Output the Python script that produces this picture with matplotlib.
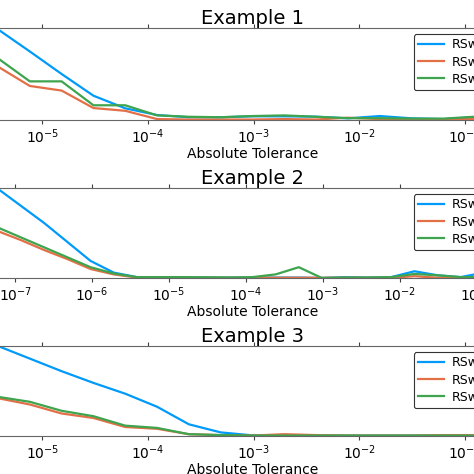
import numpy as np
import matplotlib
matplotlib.use("Agg")
import matplotlib.pyplot as plt

# tolerances are 2^-k
k_short = list(range(18, 1, -1))   # examples 1 and 3
k_long = list(range(24, 1, -1))    # example 2

labels = ["RSwM1", "RSwM2", "RSwM3"]
colors = ["#009AFA", "#E36F47", "#3EA44E"]

# example 1
ex1_m1 = [0.985, 0.745, 0.50, 0.264, 0.127, 0.054, 0.03, 0.03, 0.04, 0.04, 0.036, 0.018, 0.043, 0.018, 0.01, 0.03, 0.02]
ex1_m2 = [0.58, 0.37, 0.32, 0.13, 0.10, 0.01, 0.005, 0.005, 0.005, 0.01, 0.005, 0.025, 0.01, 0.005, 0.005, 0.01, 0.01]
ex1_m3 = [0.67, 0.42, 0.42, 0.16, 0.16, 0.05, 0.035, 0.03, 0.043, 0.05, 0.035, 0.02, 0.02, 0.015, 0.015, 0.036, 0.03]

# example 2
ex2_m1 = [0.99, 0.80, 0.61, 0.40, 0.19, 0.06, 0.01, 0.005, 0.005, 0.005, 0.005, 0.005, 0.005, 0.005, 0.0, 0.01, 0.005, 0.01, 0.075, 0.03, 0.01, 0.06, 0.08]
ex2_m2 = [0.52, 0.42, 0.31, 0.21, 0.10, 0.04, 0.005, 0.003, 0.003, 0.003, 0.003, 0.003, 0.003, 0.003, 0.003, 0.003, 0.003, 0.003, 0.02, 0.003, 0.003, 0.003, 0.003]
ex2_m3 = [0.56, 0.45, 0.34, 0.23, 0.12, 0.05, 0.01, 0.01, 0.01, 0.008, 0.005, 0.01, 0.04, 0.12, 0.0, 0.005, 0.005, 0.01, 0.045, 0.03, 0.01, 0.01, 0.01]

# example 3
ex3_m1 = [1.0, 0.86, 0.72, 0.59, 0.47, 0.325, 0.13, 0.04, 0.007, 0.003, 0.003, 0.003, 0.003, 0.003, 0.003, 0.003, 0.003]
ex3_m2 = [0.42, 0.35, 0.25, 0.20, 0.10, 0.08, 0.02, 0.01, 0.005, 0.02, 0.01, 0.005, 0.005, 0.005, 0.01, 0.01, 0.01]
ex3_m3 = [0.435, 0.38, 0.28, 0.22, 0.115, 0.09, 0.02, 0.01, 0.005, 0.005, 0.005, 0.005, 0.005, 0.005, 0.005, 0.005, 0.005]

panels = [
    ("Example 1", k_short, [ex1_m1, ex1_m2, ex1_m3]),
    ("Example 2", k_long, [ex2_m1, ex2_m2, ex2_m3]),
    ("Example 3", k_short, [ex3_m1, ex3_m2, ex3_m3]),
]

W = 474.0
fig = plt.figure(figsize=(4.74, 4.74), dpi=100)

# axes pixel boxes (top, bottom) from the top of the image
boxes = [(28, 120), (188, 278), (346, 436)]
left_px, right_px = -2, 507

for (title, ks, series), (top, bot) in zip(panels, boxes):
    ax = fig.add_axes([left_px / W, (W - bot) / W, (right_px - left_px) / W, (bot - top) / W])
    tol = [2.0 ** -k for k in ks]
    for ys, lab, c in zip(series, labels, colors):
        ax.plot(tol, ys, color=c, lw=1.6, label=lab)
    ax.set_xscale("log")
    ax.set_xlim(tol[0], tol[-1])
    ax.set_ylim(0, 1)
    ax.minorticks_off()
    ax.tick_params(axis="x", which="both", direction="out", length=3, width=0.8,
                   color="0.25", top=True, labelsize=10, pad=2)
    ax.tick_params(axis="y", left=False, labelleft=False)
    for s in ax.spines.values():
        s.set_color("0.4")
        s.set_linewidth(0.8)
    ax.set_title(title, fontsize=14, pad=-2)
    ax.set_xlabel("Absolute Tolerance", fontsize=10, labelpad=1)
    leg = ax.legend(loc="upper left", bbox_to_anchor=((413.5 - left_px) / (right_px - left_px), 1 - 6.0 / (bot - top)),
                    borderaxespad=0, fontsize=9, handlelength=2.1, handletextpad=0.6,
                    labelspacing=0.33, borderpad=0.35, fancybox=True, framealpha=1)
    leg.get_frame().set_edgecolor("0.2")
    leg.get_frame().set_linewidth(0.8)

fig.savefig("out.png", dpi=100)
